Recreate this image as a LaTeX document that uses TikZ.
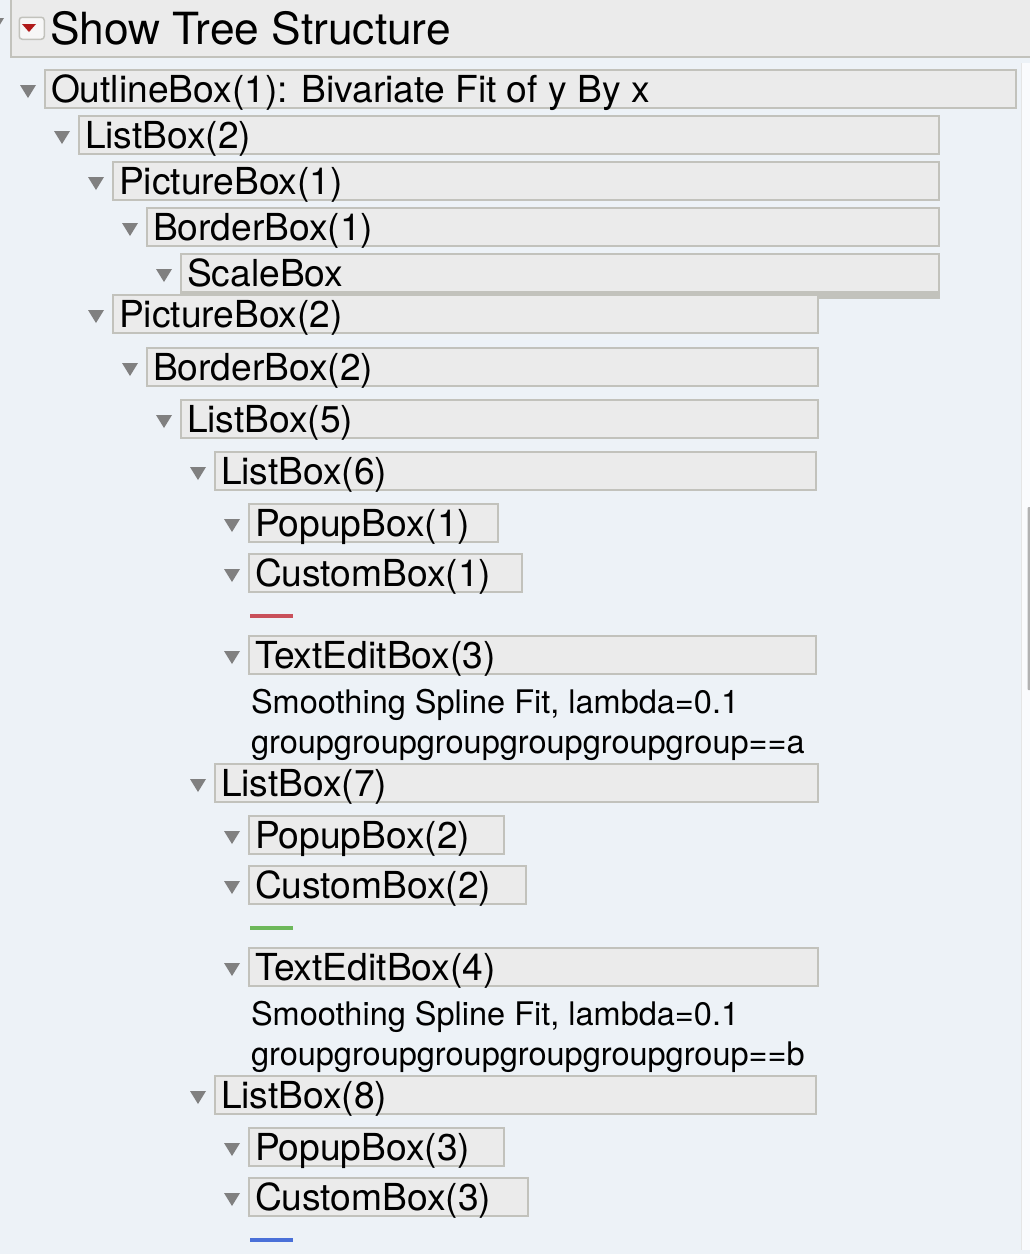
\documentclass[tikz,border=0pt]{standalone}
\usepackage{fontspec}
\setmainfont{TeX Gyre Heros}
\definecolor{bgc}{HTML}{EDF2F7}
\definecolor{boxfill}{HTML}{EBEBEB}
\definecolor{boxline}{HTML}{C2C2BC}
\definecolor{trigc}{HTML}{808080}
\definecolor{redl}{HTML}{C9505A}
\definecolor{greenl}{HTML}{6DB85A}
\definecolor{bluel}{HTML}{4A70D8}
\definecolor{iconred}{HTML}{B01A1A}
\tikzset{
  tbox/.style={draw=boxline, fill=boxfill, line width=2pt, inner sep=0pt, outer sep=0pt, minimum height=38pt, anchor=north west},
  tlabel/.style={inner sep=0pt, outer sep=0pt, anchor=base west, font=\fontsize{37.2}{40}\selectfont},
  plaintext/.style={inner sep=0pt, outer sep=0pt, anchor=base west, font=\fontsize{32.5}{36}\selectfont},
  trig/.style={fill=trigc},
  swatch/.style={line width=4pt},
}
\newcommand\trow[5]{%
  \pgfmathsetmacro\tw{#4-#2-2}%
  \node[tbox, minimum width=\tw pt] (#1) at (#2+1,#3+1) {};
  \node[tlabel] (#1-t) at (#2+7,#3+33.5) {#5};
  \fill[trig] (#2-24,#3+16) -- (#2-8,#3+16) -- (#2-16,#3+29) -- cycle;
}
\begin{document}
\begin{tikzpicture}[x=1pt,y=-1pt]
\useasboundingbox (0,0) rectangle (1030,1254);
\fill[bgc] (0,0) rectangle (1030,1254);
% header band
\draw[draw=boxline, fill=boxfill, line width=2pt] (11,-5) rectangle (1040,57);
\fill[trigc] (-12,18) -- (4,18) -- (-4,31) -- cycle;
\node[draw=boxline, fill=white!60!boxfill, line width=1.5pt, rounded corners=3pt, minimum width=25pt, minimum height=22pt, inner sep=0pt, anchor=north west] (icon) at (18.5,16.5) {};
\fill[iconred] (22,24) -- (36,24) -- (29,32) -- cycle;
\node[inner sep=0pt, anchor=base west, font=\fontsize{44.3}{47}\selectfont] (title) at (50,44) {Show Tree Structure};
% scrollbar panel
\fill[white!70!bgc] (1021,63) rectangle (1030,1250);
\draw[color=black!10, line width=1pt] (1021,63) -- (1021,1250);
\fill[black!30, rounded corners=1pt] (1027.5,507) rectangle (1031,690);
% tree rows
\trow{ob1}{44}{69}{1017}{OutlineBox(1): Bivariate Fit of y By x}
\trow{lb2}{78}{115}{940}{ListBox(2)}
\trow{pb1}{112}{161}{940}{PictureBox(1)}
\trow{bb1}{146}{207}{940}{BorderBox(1)}
\trow{sb}{180}{253}{940}{ScaleBox}
\fill[boxline] (180,292) rectangle (940,299);
\trow{pb2}{112}{294}{819}{PictureBox(2)}
\trow{bb2}{146}{347}{819}{BorderBox(2)}
\trow{lb5}{180}{399}{819}{ListBox(5)}
\trow{lb6}{214}{451}{817}{ListBox(6)}
\trow{pp1}{248}{503}{499}{PopupBox(1)}
\trow{cb1}{248}{553}{523}{CustomBox(1)}
\coordinate (r1) at (250,615.5); \coordinate (r2) at (293,615.5);
\draw[swatch, redl] (r1) -- (r2);
\trow{te3}{248}{635}{817}{TextEditBox(3)}
\node[plaintext] (t3a) at (251,713) {Smoothing Spline Fit, lambda=0.1};
\node[plaintext] (t3b) at (251,753) {groupgroupgroupgroupgroupgroup==a};
\trow{lb7}{214}{763}{819}{ListBox(7)}
\trow{pp2}{248}{815}{505}{PopupBox(2)}
\trow{cb2}{248}{865}{527}{CustomBox(2)}
\coordinate (g1) at (250,927.5); \coordinate (g2) at (293,927.5);
\draw[swatch, greenl] (g1) -- (g2);
\trow{te4}{248}{947}{819}{TextEditBox(4)}
\node[plaintext] (t4a) at (251,1025) {Smoothing Spline Fit, lambda=0.1};
\node[plaintext] (t4b) at (251,1065) {groupgroupgroupgroupgroupgroup==b};
\trow{lb8}{214}{1075}{817}{ListBox(8)}
\trow{pp3}{248}{1127}{505}{PopupBox(3)}
\trow{cb3}{248}{1177}{529}{CustomBox(3)}
\coordinate (b1) at (250,1239.5); \coordinate (b2) at (293,1239.5);
\draw[swatch, bluel] (b1) -- (b2);
\end{tikzpicture}
\end{document}
